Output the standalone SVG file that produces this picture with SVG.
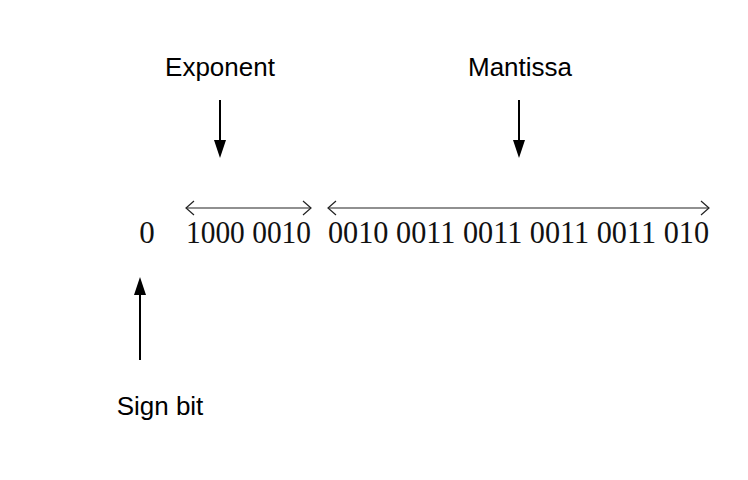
<svg xmlns="http://www.w3.org/2000/svg" width="748" height="480" viewBox="0 0 748 480">
<style>
.lbl{font-family:"Liberation Sans",Arial,sans-serif;font-size:26px;fill:#000}
.bits{font-family:"Liberation Serif","Times New Roman",serif;font-size:31px;fill:#111}
.ptr{stroke:#000;stroke-width:2;fill:none}
.span{stroke:#222;stroke-width:1.2;fill:none}
</style>
<defs>
<marker id="chev" markerWidth="10" markerHeight="16" refX="9" refY="8" orient="auto-start-reverse" markerUnits="userSpaceOnUse" viewBox="0 0 10 16">
<path d="M1,1 L9,8 L1,15" fill="none" stroke="#222" stroke-width="1.2"/>
</marker>
</defs>
<rect width="748" height="480" fill="#fff"/>
<g id="exponent-label"><text class="lbl" x="220" y="76" text-anchor="middle">Exponent</text></g>
<g id="mantissa-label"><text class="lbl" x="520" y="76" text-anchor="middle">Mantissa</text></g>
<g id="sign-label"><text class="lbl" x="160" y="415" text-anchor="middle">Sign bit</text></g>
<g id="sign-bit"><text class="bits" x="147" y="243" text-anchor="middle">0</text></g>
<g id="exponent-bits"><text class="bits" x="186" y="243" textLength="125" lengthAdjust="spacingAndGlyphs">1000 0010</text></g>
<g id="mantissa-bits"><text class="bits" x="328" y="243" textLength="381" lengthAdjust="spacingAndGlyphs">0010 0011 0011 0011 0011 010</text></g>
<g id="connectors">
<line class="ptr" x1="220" y1="100" x2="220" y2="140"/>
<path d="M214,140 L226,140 L220,158 Z" fill="#000"/>
<line class="ptr" x1="519" y1="100" x2="519" y2="140"/>
<path d="M513,140 L525,140 L519,158 Z" fill="#000"/>
<line class="ptr" x1="140" y1="360" x2="140" y2="295"/>
<path d="M134,295 L146,295 L140,277 Z" fill="#000"/>
<line class="span" x1="186" y1="208" x2="311" y2="208" marker-start="url(#chev)" marker-end="url(#chev)"/>
<line class="span" x1="328" y1="208" x2="709" y2="208" marker-start="url(#chev)" marker-end="url(#chev)"/>
</g>
</svg>
